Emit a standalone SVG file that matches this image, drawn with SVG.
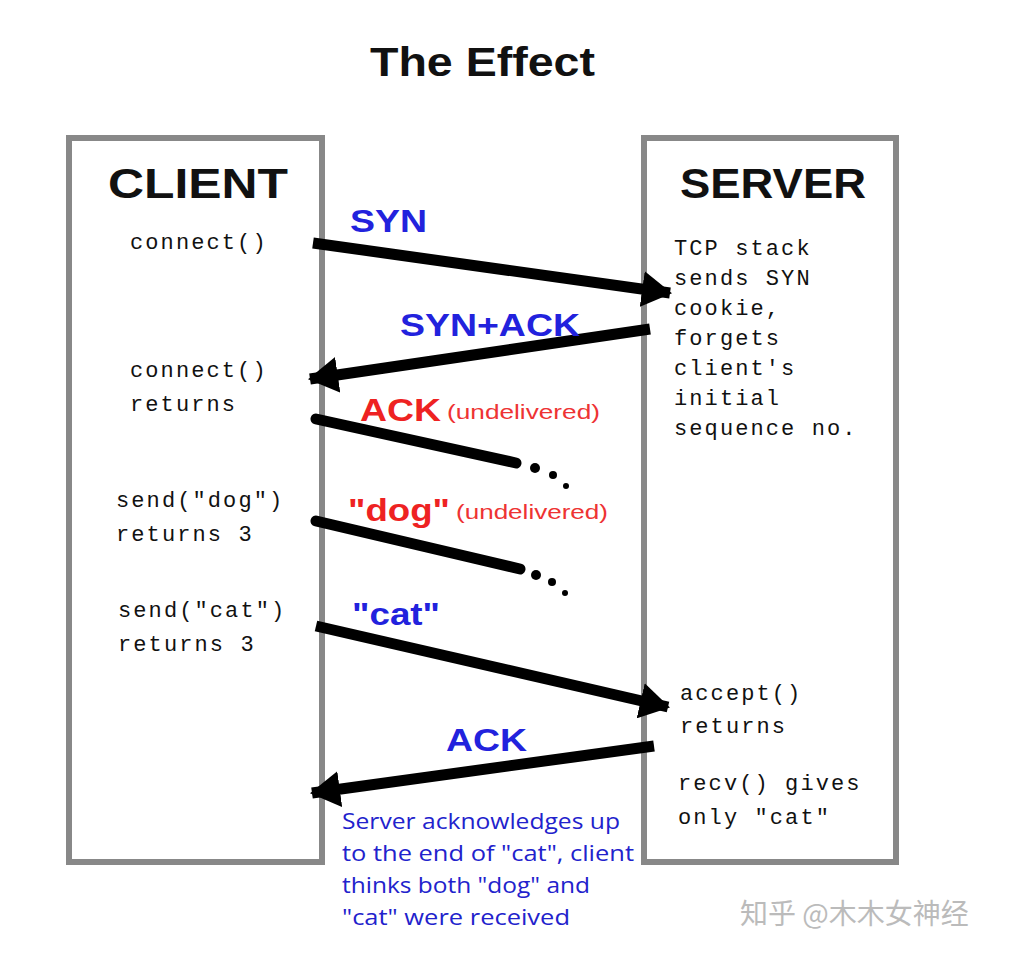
<svg xmlns="http://www.w3.org/2000/svg" width="1012" height="956" viewBox="0 0 1012 956">
<defs>
<marker id="ah" markerUnits="userSpaceOnUse" markerWidth="30" markerHeight="36" refX="28" refY="18" orient="auto"><path d="M0,0 L30,18 L0,36 Z" fill="#000"/></marker>
<style>
.box{fill:#fff;stroke:#888;stroke-width:6}
.hd{font-family:"Liberation Sans",Arial,sans-serif;font-weight:bold;font-size:42px;fill:#111}
.mono{font-family:"Liberation Mono","Courier New",monospace;font-size:22px;fill:#111;letter-spacing:2.1px}
.ln{stroke:#000;stroke-width:11;stroke-linecap:round;fill:none}
.arr{stroke:#000;stroke-width:11;fill:none;marker-end:url(#ah)}
.bl{font-family:"Liberation Sans",Arial,sans-serif;font-weight:bold;font-size:31px;fill:#2222dd}
.rd{font-family:"Liberation Sans",Arial,sans-serif;font-weight:bold;font-size:31px;fill:#ee2222}
.rs{font-family:"Liberation Sans",Arial,sans-serif;font-size:21px;fill:#ee3333}
.note{font-family:"Open Sans","Liberation Sans",sans-serif;font-size:21px;fill:#2222cc}
</style>
</defs>
<rect width="1012" height="956" fill="#fff"/>
<text x="370" y="76" class="hd" style="font-size:40px" textLength="225" lengthAdjust="spacingAndGlyphs">The Effect</text>
<g id="client">
<rect class="box" x="69" y="138" width="253" height="724"/>
<text x="108" y="198" class="hd" textLength="180" lengthAdjust="spacingAndGlyphs">CLIENT</text>
<text x="130" y="249" class="mono">connect()</text>
<text x="130" y="377" class="mono">connect()</text>
<text x="130" y="411" class="mono">returns</text>
<text x="116" y="507" class="mono">send("dog")</text>
<text x="116" y="541" class="mono">returns 3</text>
<text x="118" y="617" class="mono">send("cat")</text>
<text x="118" y="651" class="mono">returns 3</text>
</g>
<g id="server">
<rect class="box" x="644" y="138" width="252" height="724"/>
<text x="680" y="198" class="hd" textLength="186" lengthAdjust="spacingAndGlyphs">SERVER</text>
<text x="674" y="255" class="mono">TCP stack</text>
<text x="674" y="285" class="mono">sends SYN</text>
<text x="674" y="315" class="mono">cookie,</text>
<text x="674" y="345" class="mono">forgets</text>
<text x="674" y="375" class="mono">client's</text>
<text x="674" y="405" class="mono">initial</text>
<text x="674" y="435" class="mono">sequence no.</text>
<text x="680" y="700" class="mono">accept()</text>
<text x="680" y="733" class="mono">returns</text>
<text x="678" y="790" class="mono">recv() gives</text>
<text x="678" y="824" class="mono">only "cat"</text>
</g>
<g id="connectors">
<line class="arr" x1="313" y1="243" x2="670" y2="293"/>
<line class="arr" x1="650" y1="329" x2="310" y2="379"/>
<line class="ln" x1="316" y1="419" x2="516" y2="463"/>
<circle cx="535" cy="468" r="5"/><circle cx="553" cy="475" r="4"/><circle cx="566" cy="486" r="3"/>
<line class="ln" x1="316" y1="521" x2="520" y2="569"/>
<circle cx="536" cy="575" r="5"/><circle cx="552" cy="582" r="4"/><circle cx="565" cy="593" r="3"/>
<line class="arr" x1="316" y1="626" x2="668" y2="707"/>
<line class="arr" x1="654" y1="746" x2="312" y2="793"/>
</g>
<g id="labels">
<text x="350" y="232" class="bl" textLength="77" lengthAdjust="spacingAndGlyphs">SYN</text>
<text x="400" y="336" class="bl" textLength="180" lengthAdjust="spacingAndGlyphs">SYN+ACK</text>
<text x="360" y="421" class="rd" textLength="81" lengthAdjust="spacingAndGlyphs">ACK</text><text x="447" y="419" class="rs" textLength="153" lengthAdjust="spacingAndGlyphs">(undelivered)</text>
<text x="348" y="521" class="rd" textLength="102" lengthAdjust="spacingAndGlyphs">"dog"</text><text x="456" y="519" class="rs" textLength="152" lengthAdjust="spacingAndGlyphs">(undelivered)</text>
<text x="352" y="625" class="bl" textLength="88" lengthAdjust="spacingAndGlyphs">"cat"</text>
<text x="446" y="751" class="bl" textLength="81" lengthAdjust="spacingAndGlyphs">ACK</text>
<text x="342" y="829" class="note" textLength="278" lengthAdjust="spacingAndGlyphs">Server acknowledges up</text>
<text x="342" y="861" class="note" textLength="292" lengthAdjust="spacingAndGlyphs">to the end of "cat", client</text>
<text x="342" y="893" class="note" textLength="248" lengthAdjust="spacingAndGlyphs">thinks both "dog" and</text>
<text x="342" y="925" class="note" textLength="228" lengthAdjust="spacingAndGlyphs">"cat" were received</text>
</g>
<text x="740" y="924" font-family="Noto Sans CJK SC, sans-serif" font-size="28" fill="#bbb">知乎 @木木女神经</text>
</svg>
